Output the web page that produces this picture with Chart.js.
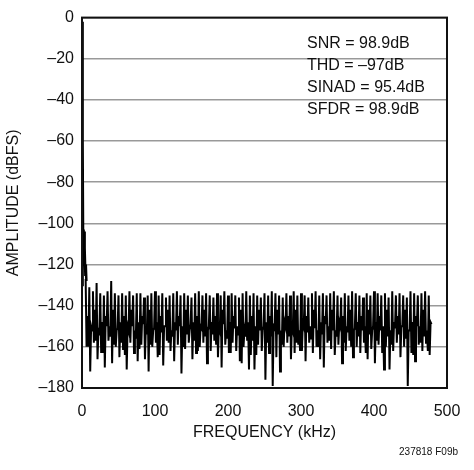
<!DOCTYPE html>
<html><head><meta charset="utf-8">
<script src="https://cdn.jsdelivr.net/npm/chart.js@4/dist/chart.umd.min.js"></script>
<style>html,body{margin:0;padding:0;background:#fff}#c{display:block}</style>
</head><body><canvas id="c" width="474" height="470"></canvas>
<script>
const yTicks = [0,-20,-40,-60,-80,-100,-120,-140,-160,-180];
const xTicks = [0,100,200,300,400,500];
const statsText = ["SNR = 98.9dB","THD = \u201397dB","SINAD = 95.4dB","SFDR = 98.9dB"];
// fundamental and skirt (kHz, dBFS)
const toneFreq = [0, 0.4, 0.8, 1.2, 1.6, 2.0, 2.4, 2.8, 3.2, 3.6, 4.0, 4.6, 5.2, 6.0];
const toneLevel = [-130, -60, -2, -60, -115, -103, -106, -104, -108, -118, -112, -125, -120, -128];
// noise floor envelope, one pair per 5 kHz bin starting at 5 kHz
const noiseHigh = [-127,-131,-133,-129,-134,-135,-133,-128,-134,-135,-134,-135,-133,-135,-134,-134,-136,-135,-134,-133,
-135,-134,-136,-135,-134,-133,-135,-134,-135,-136,-134,-133,-135,-134,-135,-136,-134,-135,-133,-135,
-134,-135,-136,-134,-133,-135,-134,-135,-136,-134,-135,-133,-134,-135,-136,-134,-135,-133,-135,-134,
-135,-136,-134,-133,-135,-134,-135,-134,-133,-135,-136,-134,-135,-133,-134,-135,-136,-134,-135,-133,
-134,-135,-134,-136,-133,-135,-134,-135,-136,-133,-134,-135,-134,-133,-135];
const noiseLow = [-160,-172,-158,-166,-163,-170,-157,-168,-160,-165,-161,-171,-158,-163,-167,-159,-166,-172,-160,-158,
-164,-169,-157,-162,-167,-159,-173,-161,-158,-166,-163,-160,-158,-168,-162,-157,-165,-170,-159,-163,
-158,-162,-167,-160,-157,-164,-171,-159,-162,-176,-163,-179,-165,-172,-160,-158,-166,-163,-159,-162,
-167,-158,-163,-160,-166,-170,-158,-161,-164,-159,-168,-162,-157,-165,-160,-163,-158,-166,-161,-168,
-159,-163,-160,-171,-162,-158,-165,-160,-179,-163,-167,-159,-162,-158,-164];
const noiseMid = [-145,-150,-142,-152,-148];

const noisePts = [];
noiseHigh.forEach((h,i)=>{
  const f = 5 + i*5;
  noisePts.push({x:f, y:h});
  noisePts.push({x:f+1.25, y:noiseLow[i]});
  noisePts.push({x:f+2.5, y:noiseMid[i%5]});
  noisePts.push({x:f+3.75, y:noiseLow[(i+7)%noiseLow.length] + 8});
});
const tonePts = toneFreq.map((f,i)=>({x:f,y:toneLevel[i]}));

const FONT = "'Liberation Sans Narrow','Arial Narrow','Liberation Sans',Arial,sans-serif";
const textPlugin = {
  id:'txt',
  afterDraw(ch){
    const c = ch.ctx, a = ch.chartArea;
    c.save();
    c.fillStyle = '#111';
    c.font = '16px ' + FONT;
    c.textBaseline = 'middle';
    statsText.forEach((t,i)=>c.fillText(t, 307, 44 + i*22));
    c.font = '10px ' + FONT;
    c.textAlign = 'right';
    c.fillText('237818 F09b', 458, 452);
    c.strokeStyle = '#111'; c.lineWidth = 2;
    c.strokeRect(a.left, a.top, a.right-a.left, a.bottom-a.top);
    c.restore();
  }
};

new Chart(document.getElementById('c'), {
  type:'line',
  data:{datasets:[
    {data:noisePts, borderColor:'#000', borderWidth:2, pointRadius:0, tension:0},
    {data:tonePts, borderColor:'#000', borderWidth:2.5, pointRadius:0, tension:0}
  ]},
  options:{
    responsive:false, animation:false,
    plugins:{legend:{display:false}, tooltip:{enabled:false}},
    layout:{padding:{left:0,right:27,top:16,bottom:24}},
    scales:{
      x:{type:'linear', min:0, max:500,
        afterBuildTicks(s){s.ticks = xTicks.map(v=>({value:v}));},
        afterFit(s){s.height = 58;},
        grid:{display:false},
        border:{display:false},
        ticks:{color:'#111', font:{family:FONT,size:16}, padding:6},
        title:{display:true, text:'FREQUENCY (kHz)', color:'#111', font:{family:FONT,size:16}, padding:{top:2}}
      },
      y:{min:-180, max:0,
        afterBuildTicks(s){s.ticks = yTicks.map(v=>({value:v}));},
        afterFit(s){s.width = 82;},
        grid:{color:'#999', lineWidth:1.5, drawTicks:false},
        border:{display:false},
        ticks:{color:'#111', font:{family:FONT,size:16}, padding:8,
          callback:v=>String(v).replace('-','\u2013')},
        title:{display:true, text:'AMPLITUDE (dBFS)', color:'#111', font:{family:FONT,size:16}, padding:{bottom:2}}
      }
    }
  },
  plugins:[textPlugin]
});
</script></body></html>
